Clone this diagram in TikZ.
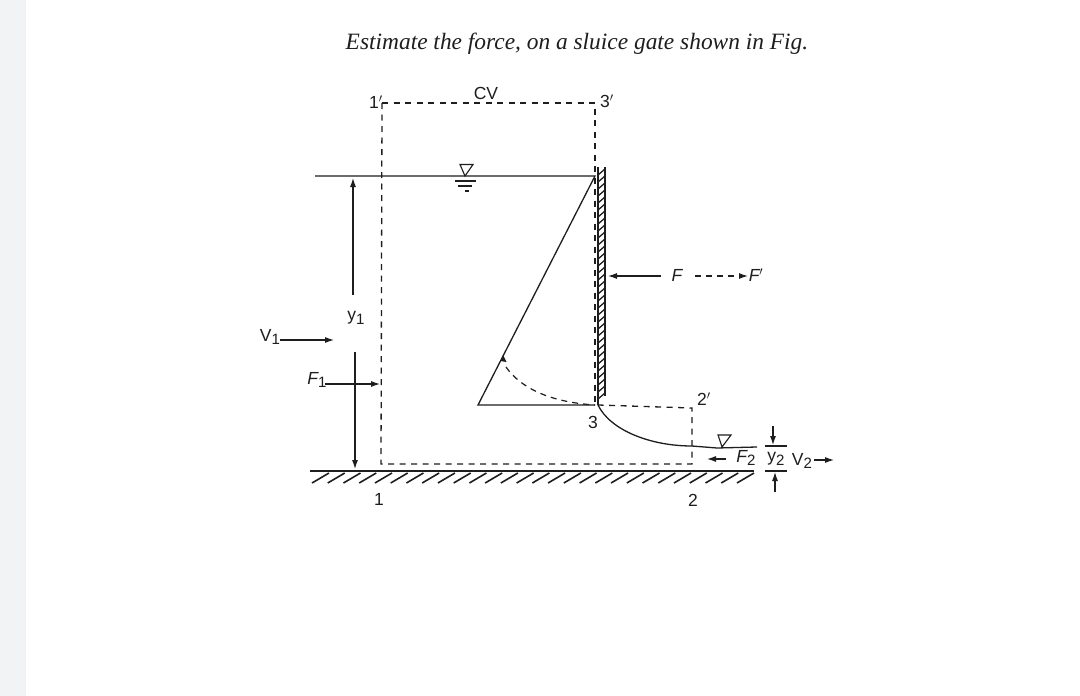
\documentclass[tikz,border=0pt]{standalone}
\usepackage{fontspec}
\setmainfont{Liberation Sans}
\newfontfamily\titlefont{Liberation Serif}
\usetikzlibrary{arrows.meta}
\definecolor{bandgray}{HTML}{F1F3F5}
\definecolor{inkc}{HTML}{1E1E1E}
\newcommand{\lowi}[1]{\raisebox{-3.5pt}{\fontsize{15}{15}\selectfont\upshape #1}}
\tikzset{
  x=1pt,y=-1pt,
  every node/.style={inner sep=0pt,outer sep=0pt,text=inkc,anchor=center},
  lab/.style={font=\fontsize{17.5}{17.5}\selectfont},
  ilab/.style={font=\itshape\fontsize{17.5}{17.5}\selectfont},
  solidline/.style={draw=inkc,line width=1.3pt},
  thinline/.style={draw=inkc,line width=1.1pt},
  cvline/.style={draw=inkc,line width=1.3pt,dash pattern=on 6pt off 5.5pt},
  arr/.style={draw=inkc,line width=1.1pt,-{Latex[length=9pt,width=6pt]}},
  hatchline/.style={draw=inkc,line width=1.6pt}
}
\begin{document}
\begin{tikzpicture}
\useasboundingbox (0,0) rectangle (1080,696);
\fill[white] (0,0) rectangle (1080,696);
\fill[bandgray] (0,0) rectangle (26,696);
\node[font=\titlefont\itshape\fontsize{23.4}{24}\selectfont] (title) at (577,44) {Estimate the force, on a sluice gate shown in Fig.};

% named points
\coordinate (c1) at (382,103);
\coordinate (c3) at (595,103);
\coordinate (c3b) at (595,405);
\coordinate (c1b) at (381,464);
\coordinate (c2b) at (692,464);
\coordinate (c2t) at (692,408);
\coordinate (g3) at (598,405);
\coordinate (wl) at (315,176);
\coordinate (wr) at (595,176);
\coordinate (tri) at (478,405);

% control volume
\draw[cvline] (c1) -- (c3) -- (c3b);
\draw[cvline] (c1) -- (c1b) -- (c2b) -- (c2t) -- (g3);

% water surface and pressure triangle
\draw[solidline] (wl) -- (wr) -- (tri) -- (c3b);
\draw[draw=inkc,line width=1.2pt,dash pattern=on 6pt off 5pt]
  (506,367) .. controls (520,387) and (548,402) .. (c3b);
\fill[inkc] (503,355) -- (506.5,362) -- (500.5,361) -- cycle;

% gate
\draw[solidline] (598,167) -- (g3);
\draw[solidline] (605,167) -- (605,396);
\foreach \y in {171,178,...,396}
  \draw[draw=inkc,line width=1.3pt] (598,\y+4) -- (605,\y-2);

% upstream nabla
\draw[thinline] (460,164.5) -- (473,164.5) -- (465,176) -- cycle;
\draw[thinline] (455,181) -- (476,181);
\draw[thinline] (458,186) -- (472,186);
\draw[thinline] (465,191) -- (469,191);

% bed
\draw[draw=inkc,line width=1.6pt] (310,471) -- (754,471);
\foreach \x in {312,327.74,...,738}
  \draw[hatchline] (\x,483) -- (\x+17,473);

% depth arrows
\coordinate (ya) at (353,295);
\coordinate (yb) at (353,178);
\coordinate (yc) at (355,352);
\coordinate (yd) at (355,469);
\draw[arr] (ya) -- (yb);
\draw[arr] (yc) -- (yd);
\node[lab] (y1) at (356,318) {y\lowi{1}};

% V1, F1
\node[lab] (v1) at (270,337) {V\lowi{1}};
\coordinate (v1e) at (334,340);
\draw[arr] (280,340) -- (v1e);
\node[ilab] (f1) at (317,380) {F\lowi{1}};
\coordinate (f1e) at (380,384);
\draw[arr] (325,384) -- (f1e);

% F and F'
\node[ilab] (f) at (677,275) {F};
\node[ilab] (fp) at (756,275) {F$'$};
\coordinate (fs) at (608,276);
\draw[arr] (661,276) -- (fs);
\draw[draw=inkc,line width=1.2pt,dash pattern=on 6pt off 5pt,-{Latex[length=9pt,width=6pt]}] (695,276) -- (748,276);

% jet surface
\draw[solidline] (g3) .. controls (610,430) and (650,446) .. (692,446) -- (717,448) -- (757,447);
\draw[thinline] (718,435) -- (731,435) -- (722,447) -- cycle;

% downstream labels
\coordinate (f2s) at (707,459);
\draw[arr] (726,459) -- (f2s);
\node[ilab] (f2) at (746,458) {F\lowi{2}};
\node[lab] (y2) at (776,459) {y\lowi{2}};
\node[lab] (v2) at (802,461) {V\lowi{2}};
\draw[arr] (814,460) -- (834,460);
\draw[thinline] (765,446) -- (787,446);
\draw[thinline] (765,471) -- (787,471);
\draw[arr] (773,426) -- (773,445);
\draw[arr] (775,492) -- (775,472);

% station labels
\node[lab] (n1p) at (376,102) {1$'$};
\node[lab] (cv) at (486,93) {CV};
\node[lab] (n3p) at (607,101) {3$'$};
\node[lab] (n1) at (379,499) {1};
\node[lab] (n3) at (593,422) {3};
\node[lab] (n2p) at (704,399) {2$'$};
\node[lab] (n2) at (693,500) {2};
\end{tikzpicture}
\end{document}
